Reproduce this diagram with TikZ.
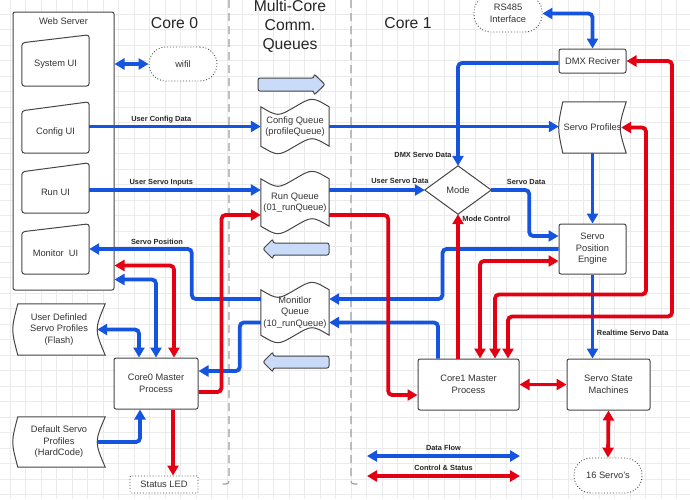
\documentclass[tikz,border=0pt]{standalone}
\usepackage{fontspec}
\setmainfont{Liberation Sans}
\usetikzlibrary{arrows.meta,calc}
\definecolor{B}{RGB}{20,84,222}
\definecolor{R}{RGB}{226,0,18}
\definecolor{LB}{RGB}{201,219,248}
\definecolor{G}{RGB}{70,70,70}
\pgfdeclarelayer{grid}
\pgfdeclarelayer{bg}
\pgfsetlayers{grid,bg,main}
\tikzset{
  txt/.style={font=\fontsize{9.3}{11.5}\selectfont, text=black!80, align=center, inner sep=0pt},
  lab/.style={font=\fontsize{7.4}{9}\selectfont\bfseries, text=black!85, inner sep=1.5pt},
  ttl/.style={font=\fontsize{15.7}{19}\selectfont, text=black!85, align=center},
  box/.style={txt, draw=G, line width=1pt, rounded corners=2pt, fill=white},
  hold/.style={txt},
  shp/.style={draw=G, line width=1pt, fill=white},
  dotbox/.style={txt, draw=G, line width=0.9pt, dotted, fill=white},
  blueln/.style={B, line width=3.8pt, rounded corners=4pt},
  redln/.style={blueln, R},
  blk/.style={draw=G, line width=1pt, fill=LB, rounded corners=2pt},
  lane/.style={gray!75, line width=1.1pt, dash pattern=on 8pt off 5pt, rounded corners=3pt},
  gridln/.style={black!8, line width=0.5pt}
}

\begin{document}
\begin{tikzpicture}[x=1pt, y=-1pt, >={Triangle[length=10pt,width=11pt]}]
  \useasboundingbox (0,0) rectangle (690,499);
  \begin{pgfonlayer}{grid}
    \fill[white] (0,0) rectangle (690,499);
    \foreach \i in {0,...,44} \draw[gridln] ({10+15.5*\i},0) -- ++(0,499);
    \foreach \j in {0,...,31} \draw[gridln] (0,{14+15.5*\j}) -- ++(690,0);
  \end{pgfonlayer}

  % titles
  \node[ttl] (core0) at (174.5,23) {Core 0};
  \node[ttl] (mcq) at (290,26) {Multi-Core\\Comm.\\Queues};
  \node[ttl] (core1) at (408,23) {Core 1};

  % core 0
  \node[txt] (wstitle) at (63.5,21.5) {Web Server};
  \node[hold, minimum width=67pt, minimum height=43pt] (sysui) at (55.5,64.5) {System UI};
  \node[hold, minimum width=67pt, minimum height=42pt] (cfgui) at (55.5,132) {Config UI};
  \node[hold, minimum width=67pt, minimum height=41pt] (runui) at (55.5,192.5) {Run UI};
  \node[hold, minimum width=67pt, minimum height=42pt] (monui) at (55.5,253) {Monitor\ \ UI};
  \node[dotbox, rounded corners=17pt, minimum width=68pt, minimum height=34pt] (wifi) at (183,64) {wifil};
  \node[hold, minimum width=92pt, minimum height=51pt] (udprof) at (59,329.5) {User Definled\\Servo Profiles\\(Flash)};
  \node[hold, minimum width=92pt, minimum height=50pt] (dfprof) at (59,442) {Default Servo\\Profiles\\(HardCode)};
  \node[box, minimum width=84pt, minimum height=51pt] (c0mp) at (156,383.5) {Core0 Master\\Process};
  \node[dotbox, rounded corners=1pt, minimum width=68pt, minimum height=17pt] (led) at (164,484.5) {Status LED};

  % queues
  \node[hold, minimum width=68pt, minimum height=53pt] (cfgq) at (295,126.5) {Config Queue\\(profileQueue)};
  \node[hold, minimum width=68pt, minimum height=61pt] (runq) at (295,202.5) {Run Queue\\(01\_runQueue)};
  \node[hold, minimum width=68pt, minimum height=59pt] (monq) at (295,312.5) {Monitlor\\Queue\\(10\_runQueue)};

  % core 1
  \node[dotbox, rounded corners=17pt, minimum width=68pt, minimum height=37pt] (rs485) at (508,13.5) {RS485\\Interface};
  \node[box, minimum width=67pt, minimum height=24pt] (dmx) at (592.5,61) {DMX Reciver};
  \node[hold, minimum width=67pt, minimum height=51pt] (svprof) at (592.5,127.5) {Servo Profiles};
  \node[hold, minimum width=66pt, minimum height=48pt] (mode) at (458,190) {Mode};
  \node[box, minimum width=67pt, minimum height=50pt] (spe) at (592.5,249) {Servo\\Position\\Engine};
  \node[box, minimum width=101pt, minimum height=51pt] (c1mp) at (468.5,384.5) {Core1 Master\\Process};
  \node[box, minimum width=83pt, minimum height=51pt] (ssm) at (608.5,384.5) {Servo State\\Machines};
  \node[dotbox, rounded corners=17pt, minimum width=68pt, minimum height=35pt] (servos) at (608,475.5) {16 Servo's};

  \begin{pgfonlayer}{bg}
    \draw[lane] (229,0) -- (229,484) -- (222,484);
    \draw[lane] (351,0) -- (351,484) -- (358,484);
    \node[box, minimum width=101pt, minimum height=278pt] (websrv) at (63.5,151) {};
    % manual input shapes
    \foreach \n/\s in {sysui/8,cfgui/9,runui/9,monui/8}
      \draw[shp, rounded corners=3pt] (\n.south west) -- (\n.north west) -- ([yshift=\s pt]\n.north east) -- (\n.south east) -- cycle;
    % tape shapes
    \foreach \n in {cfgq,runq,monq}
      \draw[shp] ($(\n.north west)+(0,7)$) .. controls ($(\n.north west)!.25!(\n.north east)+(0,17)$) .. ($(\n.north)+(0,7)$)
        .. controls ($(\n.north west)!.75!(\n.north east)+(0,-3)$) .. ($(\n.north east)+(0,7)$)
        -- ($(\n.south east)+(0,-7)$) .. controls ($(\n.south west)!.75!(\n.south east)+(0,-17)$) .. ($(\n.south)+(0,-7)$)
        .. controls ($(\n.south west)!.25!(\n.south east)+(0,3)$) .. ($(\n.south west)+(0,-7)$) -- cycle;
    % stored data shapes
    \foreach \n/\a/\l/\r in {svprof/4/1.5/8,udprof/5/1.7/10.7,dfprof/5/1.7/10.7}
      \draw[shp] ([xshift=\a pt]\n.north west) -- (\n.north east) .. controls ([xshift=-\r pt]\n.east) .. (\n.south east)
        -- ([xshift=\a pt]\n.south west) .. controls ([xshift=-\l pt]\n.west) .. ([xshift=\a pt]\n.north west) -- cycle;
    \draw[shp] (mode.west) -- (mode.north) -- (mode.east) -- (mode.south) -- cycle;
  \end{pgfonlayer}

  % queue direction arrows
  \draw[blk] (258,78) -- (314,78) -- (314,74) -- (325,84.5) -- (314,95) -- (314,91) -- (258,91) -- cycle;
  \foreach \y in {249,362}
    \draw[blk] (329,\y-6) -- (273,\y-6) -- (273,\y-10) -- (263,\y) -- (273,\y+10) -- (273,\y+6) -- (329,\y+6) -- cycle;

  % data flow
  \draw[blueln, <->] (websrv.east |- wifi.west) -- (wifi.west);
  \draw[blueln, ->] (cfgui.east |- cfgq.west) -- node[lab, above=0.5pt, pos=.42] {User Config Data} (cfgq.west);
  \draw[blueln, ->] (cfgq.east) -- (svprof.west |- cfgq.east);
  \draw[blueln, ->] (runui.east |- mode.west) -- node[lab, above=0.8pt, pos=.42] {User Servo Inputs} (runq.west |- mode.west);
  \draw[blueln, ->] (runq.east |- mode.west) -- node[lab, above=3pt, pos=.74] {User Servo Data} (mode.west);
  \draw[blueln, ->] ([yshift=-2pt]dmx.west) -| node[lab, left=3pt, pos=.948] {DMX Servo Data} (mode.north);
  \draw[blueln, <->] (rs485.east) -| (dmx.north);
  \draw[blueln, ->] (svprof.south) -- (spe.north);
  \draw[blueln, ->] (mode.east) -- ++(38,0) node[lab, above=2pt, xshift=-3pt] {Servo Data} |- ([yshift=13pt]spe.west);
  \draw[blueln, ->] (spe.west) -- ++(-116,0) |- ([yshift=13.5pt]monq.east);
  \draw[blueln, ->] ([xshift=-30.5pt]c1mp.north) |- ([yshift=-10pt]monq.east);
  \draw[blueln, ->] (spe.south) -- node[lab, right=1pt, pos=.69] {Realtime Servo Data} (spe.south |- ssm.north);
  \draw[blueln, ->] ([yshift=13.5pt]monq.west) -- ++(-69,0) |- node[lab, above=1.3pt, pos=.67] {Servo Position} ([yshift=4pt]monui.east);
  \draw[blueln, ->] ([yshift=-10pt]monq.west) -- ++(-21,0) |- ([yshift=12.5pt]c0mp.east);
  \draw[blueln, <->] (c0mp.north) |- ([yshift=11pt]websrv.south east);
  \draw[blueln, <->] ([xshift=-8pt]udprof.east) -| ([xshift=-17pt]c0mp.north);
  \draw[blueln, ->] ([xshift=-8pt]dfprof.east) -| ([xshift=-16pt]c0mp.south);

  % control and status
  \draw[redln, ->] ([yshift=-8.5pt]c0mp.east) -- ++(23,0) |- ([yshift=-12.5pt]runq.west);
  \draw[redln, ->] ([xshift=17pt]c0mp.south) -- ([xshift=9pt]led.north);
  \draw[redln, <->] ([xshift=18pt]c0mp.north) |- ([yshift=25pt]websrv.south east);
  \draw[redln, ->] ([yshift=-12.5pt]runq.east) -- ++(59,0) |- ([yshift=-10.5pt]c1mp.west);
  \draw[redln, ->] (mode.south |- c1mp.north) -- node[lab, right=1pt, pos=.965] {Mode Control} (mode.south);
  \draw[redln, <->] ([xshift=11.5pt]c1mp.north) |- ([yshift=-12pt]spe.west);
  \draw[redln, <->] ([xshift=26.5pt]c1mp.north) -- ++(0,-64) -- ++(151,0) |- ([xshift=-5pt]svprof.east);
  \draw[redln, <->] ([xshift=39.5pt]c1mp.north) -- ++(0,-42) -- ++(164,0) |- (dmx.east);
  \draw[redln, <->] (c1mp.east) -- (ssm.west);
  \draw[redln, <->] (ssm.south) -- (servos.north);

  % legend
  \coordinate (dfl) at (367,456);
  \coordinate (dfr) at (520,456);
  \coordinate (csl) at (367,476);
  \coordinate (csr) at (520,476);
  \draw[blueln, <->] (dfl) -- node[lab, above=2pt] {Data Flow} (dfr);
  \draw[redln, <->] (csl) -- node[lab, above=2pt] {Control \& Status} (csr);
\end{tikzpicture}
\end{document}
